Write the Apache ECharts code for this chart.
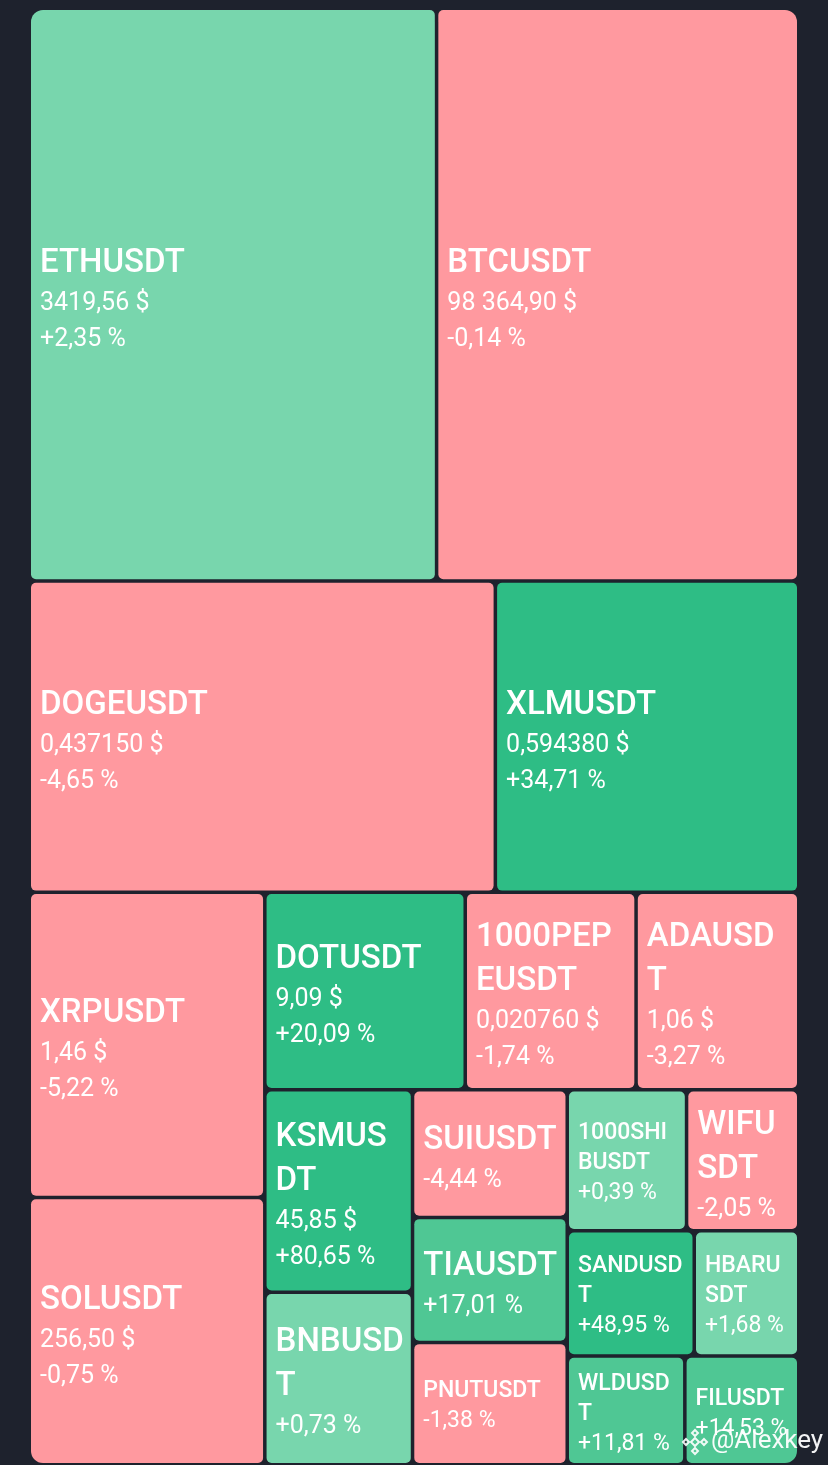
<!DOCTYPE html>
<html>
<head>
<meta charset="utf-8">
<script src="https://cdn.jsdelivr.net/npm/echarts@6/dist/echarts.min.js"></script>
<style>
  html, body { margin: 0; padding: 0; background: #1e222d; }
  #main { width: 828px; height: 1465px; }
</style>
</head>
<body>
<div id="main"></div>
<script>
  // datos del mapa (orden como en la captura)
  var simbolos = ['ETHUSDT', 'BTCUSDT', 'DOGEUSDT', 'XLMUSDT', 'XRPUSDT', 'SOLUSDT',
    'DOTUSDT', '1000PEPEUSDT', 'ADAUSDT', 'KSMUSDT', 'BNBUSDT', 'SUIUSDT', 'TIAUSDT',
    'PNUTUSDT', '1000SHIBUSDT', 'WIFUSDT', 'SANDUSDT', 'HBARUSDT', 'WLDUSDT', 'FILUSDT'];
  var precios = ['3419,56', '98 364,90', '0,437150', '0,594380', '1,46', '256,50',
    '9,09', '0,020760', '1,06', '45,85', null, null, null,
    null, null, null, null, null, null, null];
  var cambios = [2.35, -0.14, -4.65, 34.71, -5.22, -0.75,
    20.09, -1.74, -3.27, 80.65, 0.73, -4.44, 17.01,
    -1.38, 0.39, -2.05, 48.95, 1.68, 11.81, 14.53];
  var pesos = [231700, 206000, 144100, 93800, 71400, 62500,
    39300, 33500, 31900, 29700, 25300, 19600, 19200,
    18800, 16700, 15700, 15800, 13000, 12700, 12300];

  var nombresChicos = ['PNUTUSDT', '1000SHIBUSDT', 'SANDUSDT', 'HBARUSDT', 'WLDUSDT', 'FILUSDT'];
  // esquinas exteriores mas redondeadas
  var esquinas = {
    'ETHUSDT': [12, 5, 5, 5],
    'BTCUSDT': [5, 12, 5, 5],
    'SOLUSDT': [5, 5, 5, 12],
    'FILUSDT': [5, 5, 12, 5]
  };
  var padIzq = 9, padDer = 6;
  var estilos = {
    n: { fontSize: 33, fontWeight: 500, lineHeight: 44, color: '#fff', fontFamily: 'Roboto' },
    v: { fontSize: 25, lineHeight: 36, color: '#fff', fontFamily: 'Roboto' },
    ns: { fontSize: 23, fontWeight: 500, lineHeight: 30, color: '#fff', fontFamily: 'Roboto' },
    vs: { fontSize: 23, lineHeight: 30, color: '#fff', fontFamily: 'Roboto' }
  };

  function colorPara(c) {
    if (c < 0) return '#ff999f';
    if (c < 10) return '#78d6ad';
    if (c < 20) return '#4fc794';
    return '#2ebd85';
  }

  function formatoCambio(c) {
    var s = Math.abs(c).toFixed(2).replace('.', ',');
    return (c < 0 ? '-' : '+') + s + ' %';
  }

  var datos = [];
  for (var i = 0; i < simbolos.length; i++) {
    datos.push({
      name: simbolos[i],
      value: pesos[i],
      precio: precios[i],
      cambio: cambios[i],
      itemStyle: {
        color: colorPara(cambios[i]),
        borderRadius: esquinas[simbolos[i]] || 5
      }
    });
  }

  var myChart = echarts.init(document.getElementById('main'));

  var blanco = 'rgba(255,255,255,0.9)';
  function rombo(cx, cy, r) {
    return {
      type: 'polygon', z: 100,
      shape: { points: [[cx, cy - r], [cx + r, cy], [cx, cy + r], [cx - r, cy]] },
      style: { fill: 'none', stroke: blanco, lineWidth: 2 }
    };
  }

  var option = {
    backgroundColor: '#1e222d',
    series: [
      {
        type: 'treemap',
        left: 31,
        top: 10,
        width: 766,
        height: 1453,
        sort: false,
        roam: false,
        nodeClick: false,
        breadcrumb: { show: false },
        squareRatio: 1,
        itemStyle: {
          borderWidth: 0,
          gapWidth: 3.5,
          borderColor: '#1e222d',
          color: '#1e222d'
        },
        levels: [
          { itemStyle: { borderWidth: 0, gapWidth: 3.5, borderColor: '#1e222d', color: '#1e222d' } },
          { itemStyle: { borderWidth: 0, borderColor: '#1e222d' } }
        ],
        label: {
          show: true,
          position: 'insideTopLeft',
          distance: 0,
          padding: [0, padDer, 0, padIzq],
          overflow: 'breakAll',
          color: '#ffffff',
          fontFamily: 'Roboto',
          formatter: function (p) {
            var d = p.data;
            var chico = nombresChicos.indexOf(d.name) >= 0;
            var n = chico ? 'ns' : 'n';
            var v = chico ? 'vs' : 'v';
            // el salto de linea va dentro del bloque siguiente
            var txt = '{' + n + '|' + d.name + '}';
            if (d.precio) txt += '{' + v + '|\n' + d.precio + ' $}';
            txt += '{' + v + '|\n' + formatoCambio(d.cambio) + '}';
            return txt;
          },
          rich: estilos
        },
        emphasis: { disabled: true },
        data: datos
      }
    ],
    graphic: [
      {
        type: 'group',
        x: 695,
        y: 1442,
        z: 100,
        children: [
          rombo(0, 0, 4),
          rombo(0, -9, 3),
          rombo(0, 9, 3),
          rombo(-9, 0, 3),
          rombo(9, 0, 3)
        ]
      },
      {
        type: 'text',
        x: 711,
        y: 1428,
        z: 100,
        style: {
          text: '@Alexkey',
          fill: 'rgba(255,255,255,0.95)',
          font: '26px Roboto'
        }
      }
    ]
  };

  myChart.setOption(option);

  // centrar el texto en vertical dentro de cada celda
  function lineasNombre(ctx, nombre, ancho, est) {
    ctx.font = est.fontWeight + ' ' + est.fontSize + 'px Roboto';
    var lineas = 1, acum = 0;
    for (var k = 0; k < nombre.length; k++) {
      var w = ctx.measureText(nombre.charAt(k)).width;
      if (acum + w > ancho && acum > 0) {
        lineas++;
        acum = w;
      } else {
        acum += w;
      }
    }
    return lineas;
  }

  function centrarEtiquetas() {
    var serie = myChart.getModel().getSeriesByIndex(0);
    var nodos = serie.getData().tree.root.children;
    var ctx = document.createElement('canvas').getContext('2d');
    var nuevos = [];
    for (var i = 0; i < datos.length; i++) {
      var d = datos[i];
      var nodo = null;
      for (var j = 0; j < nodos.length; j++) {
        if (nodos[j].name === d.name) nodo = nodos[j];
      }
      var lay = nodo.getLayout();
      var chico = nombresChicos.indexOf(d.name) >= 0;
      var en = chico ? estilos.ns : estilos.n;
      var ev = chico ? estilos.vs : estilos.v;
      var nl = lineasNombre(ctx, d.name, lay.width - padIzq - padDer, en);
      var alto = nl * en.lineHeight + (d.precio ? 2 : 1) * ev.lineHeight;
      // un poco mas abajo que el centro exacto, como en la captura
      var extra = chico ? 3 : 5;
      var arriba = Math.max(0, Math.round((lay.height - alto) / 2) + extra);
      nuevos.push(Object.assign({}, d, {
        label: { padding: [arriba, padDer, 0, padIzq] }
      }));
    }
    myChart.setOption({ series: [{ data: nuevos }] });
  }

  centrarEtiquetas();
</script>
</body>
</html>
